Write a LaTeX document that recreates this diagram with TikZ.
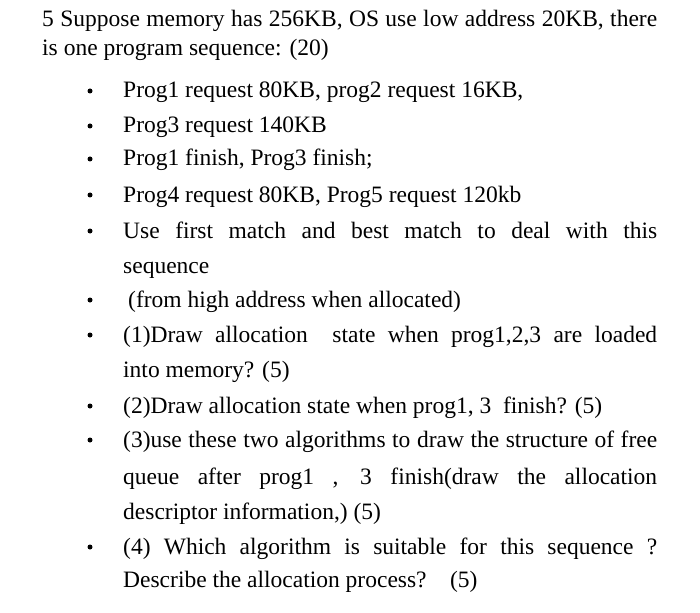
\documentclass[tikz,border=0pt]{standalone}
\usepackage{fontspec}
\setmainfont{Liberation Serif}
\begin{document}
\begin{tikzpicture}[x=1pt,y=-1pt,
  t/.style={anchor=base west,inner sep=0pt,font=\fontsize{23.5}{28}\selectfont},
  b/.style={circle,fill=black,inner sep=0pt,minimum size=5pt}]
\useasboundingbox (0,0) rectangle (700,612);
\newcommand{\jl}[3]{\node[t] at (#1,#2) {\makebox[\dimexpr657pt-#1pt\relax][s]{#3}};}
\jl{42}{27}{5 Suppose memory has 256KB, OS use low address 20KB, there}
\node[t] (l2) at (42,56) {is one program sequence: (20)};
\node[t] (l3) at (123,98) {Prog1 request 80KB, prog2 request 16KB,};
\node[t] (l4) at (123,133) {Prog3 request 140KB};
\node[t] (l5) at (123,166) {Prog1 finish, Prog3 finish;};
\node[t] (l6) at (123,202) {Prog4 request 80KB, Prog5 request 120kb};
\jl{123}{238}{Use first match and best match to deal with this}
\node[t] (l8) at (123,273) {sequence};
\node[t] (l9) at (128,307) {(from high address when allocated)};
\jl{123}{342}{(1)Draw allocation \ state when prog1,2,3 are loaded}
\node[t] (l11) at (123,377) {into memory? (5)};
\node[t] (l12) at (123,413) {(2)Draw allocation state when prog1, 3\ \ finish? (5)};
\jl{123}{447}{(3)use these two algorithms to draw the structure of free}
\jl{123}{484}{queue after prog1 , 3 finish(draw the allocation}
\node[t] (l15) at (123,519) {descriptor information,) (5)};
\jl{123}{554}{(4) Which algorithm is suitable for this sequence ?}
\node[t] (l17) at (123,587) {Describe the allocation process?\quad(5)};
\foreach \y [count=\i] in {91,126,159,195,231,300,335,406,440,547}
  \node[b] (b\i) at (90,\y) {};
\end{tikzpicture}
\end{document}
